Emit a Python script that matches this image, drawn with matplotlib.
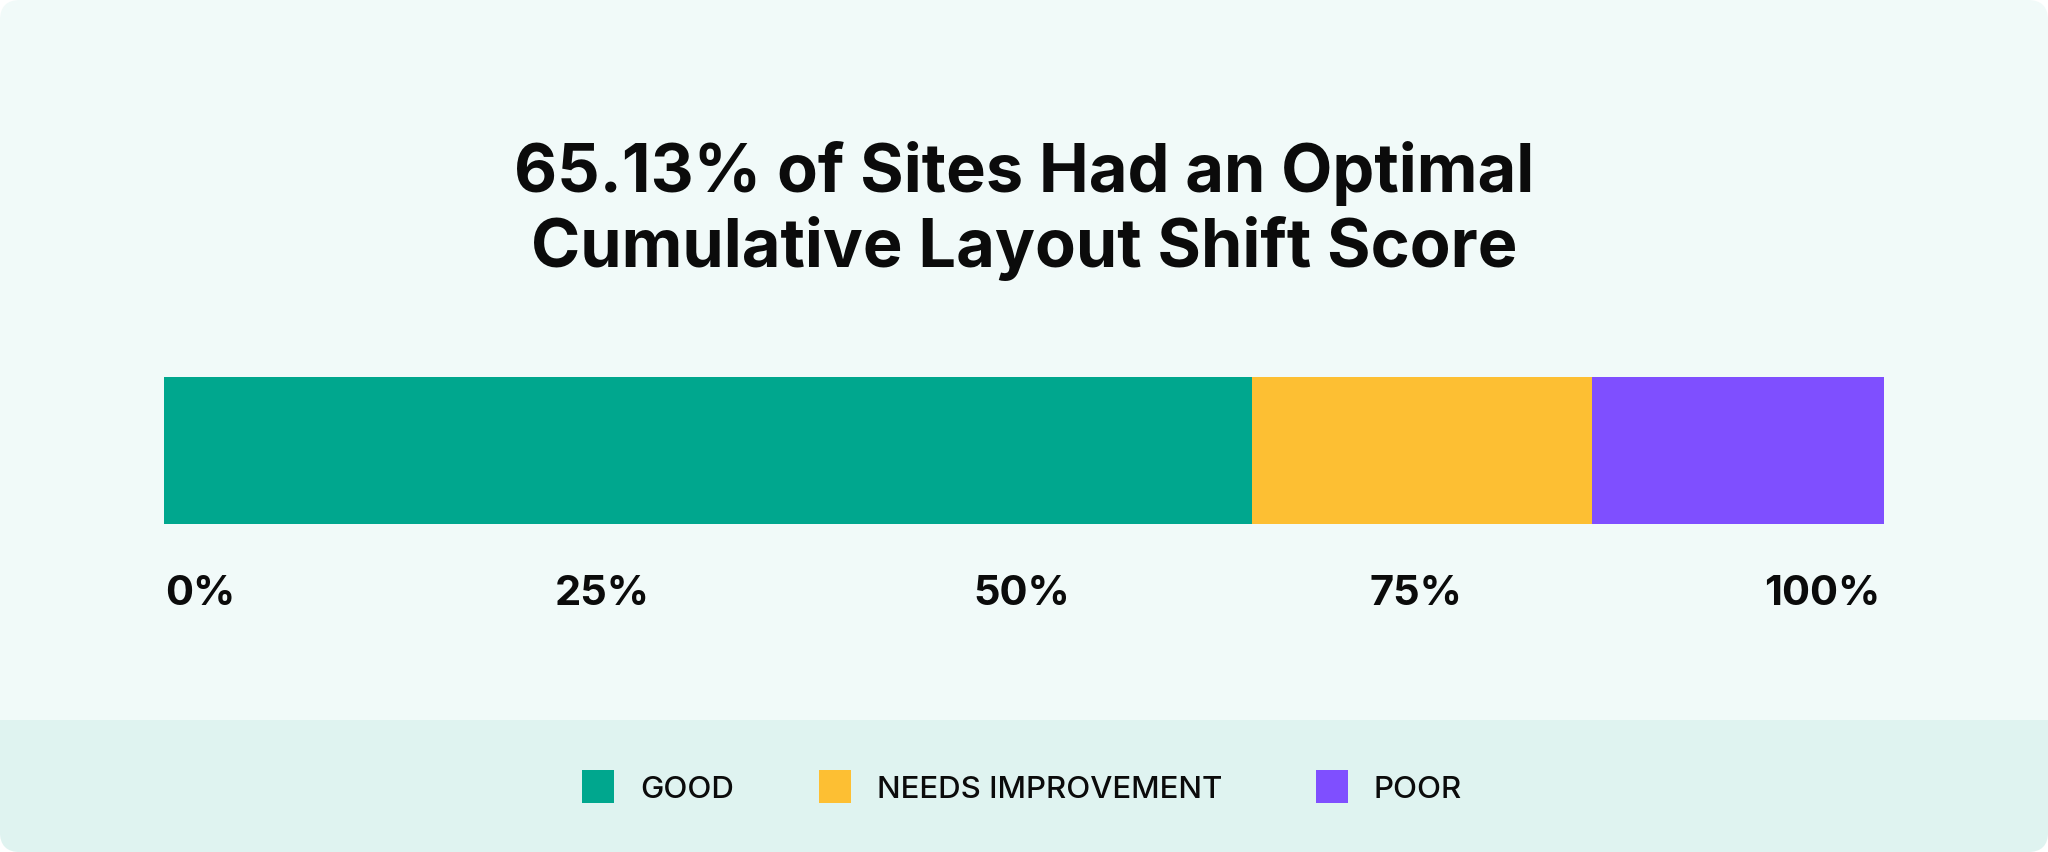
import matplotlib
matplotlib.use('Agg')
import matplotlib.pyplot as plt
from matplotlib.patches import FancyBboxPatch, Rectangle

# Valores (as larguras desenhadas das barras).
categories = ['GOOD', 'NEEDS IMPROVEMENT', 'POOR']
shares = [63.25, 19.8, 16.95]
colors = ['#00A78E', '#FDBF33', '#7F4FFF']
tick_labels = ['0%', '25%', '50%', '75%', '100%']
title = '65.13% of Sites Had an Optimal\nCumulative Layout Shift Score'

W, H = 2048, 852
plt.rcParams['font.family'] = ['Inter', 'DejaVu Sans']

fig = plt.figure(figsize=(W / 100, H / 100), dpi=100)
fig.patch.set_facecolor('white')

# Fundo em coordenadas de pixel.
bg = fig.add_axes([0, 0, 1, 1])
bg.set_xlim(0, W)
bg.set_ylim(H, 0)
bg.axis('off')
card = FancyBboxPatch((0, 0), W, H, boxstyle='round,pad=0,rounding_size=20',
                      facecolor='#F1FAF9', edgecolor='none')
bg.add_patch(card)
band = Rectangle((0, 720), W, H - 720, facecolor='#DFF3F0', edgecolor='none')
bg.add_patch(band)
band.set_clip_path(card)

bg.text(W / 2, 211, title, ha='center', va='center', fontsize=48,
        fontweight='bold', color='#0B0B0B', linespacing=1.18)

# Barra empilhada.
ax = fig.add_axes([163.7 / W, 1 - 524 / H, (1884 - 163.7) / W, (524 - 376.7) / H])
left = 0
for cat, val, col in zip(categories, shares, colors):
    ax.barh(0, val, left=left, height=1, color=col, edgecolor='none')
    left += val
ax.set_xlim(0, sum(shares))
ax.set_ylim(-0.5, 0.5)
ax.axis('off')

# Rotulos do eixo, distribuidos como no original.
tick_x = [165, 602, 1022, 1416, 1880]
aligns = ['left', 'center', 'center', 'center', 'right']
for lab, x, ha in zip(tick_labels, tick_x, aligns):
    bg.text(x, 605, lab, ha=ha, va='baseline', fontsize=30,
            fontweight='bold', color='#0B0B0B')

# Legenda.
sq_x = [582, 819, 1316]
for cat, col, x in zip(categories, colors, sq_x):
    bg.add_patch(Rectangle((x, 770), 32, 33, facecolor=col, edgecolor='none'))
    bg.text(x + 58, 798, cat, ha='left', va='baseline', fontsize=22.5,
            fontweight='medium', color='#0B0B0B')

fig.savefig('out.png', dpi=100, facecolor=fig.get_facecolor())
